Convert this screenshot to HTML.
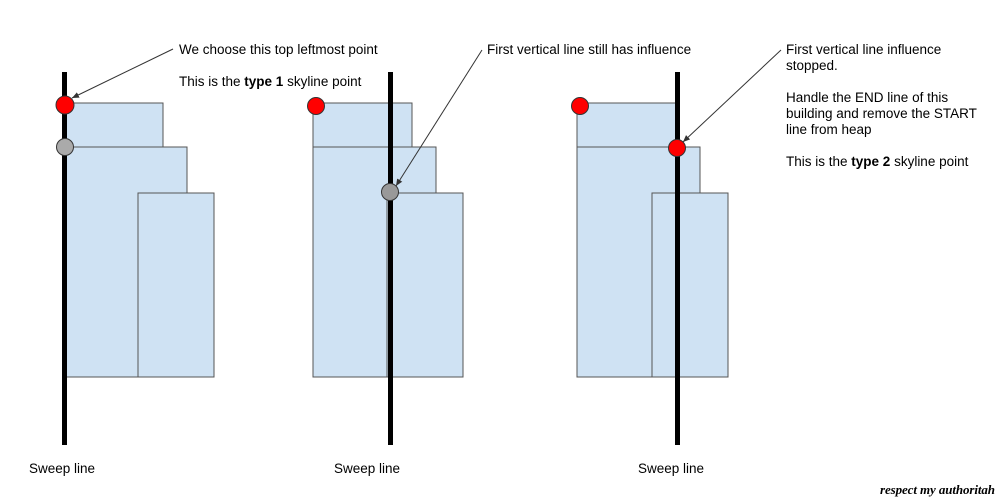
<!DOCTYPE html>
<html><head><style>body{margin:0;background:#fff}svg{display:block}</style></head><body>
<svg width="1000" height="503" xmlns="http://www.w3.org/2000/svg" font-family="Liberation Sans, Arial, sans-serif" font-size="13.5">
<defs><marker id="a" markerWidth="8" markerHeight="8" refX="7" refY="4" orient="auto" markerUnits="userSpaceOnUse"><path d="M0,1 L7,4 L0,7 z" fill="#333"/></marker></defs>
<g fill="#cfe2f3" stroke="#555" stroke-width="1">
<rect x="64" y="103" width="99" height="44"/><rect x="64" y="147" width="123" height="230"/><rect x="138" y="193" width="76" height="184"/>
<rect x="313" y="103" width="99" height="44"/><rect x="313" y="147" width="123" height="230"/><rect x="387" y="193" width="76" height="184"/>
<rect x="577" y="103" width="99" height="44"/><rect x="577" y="147" width="123" height="230"/><rect x="652" y="193" width="76" height="184"/>
</g>
<g fill="#000"><rect x="62" y="72" width="5" height="373"/><rect x="388" y="72" width="5" height="373"/><rect x="675" y="72" width="5" height="373"/></g>
<g stroke="#333" stroke-width="1">
<circle cx="65" cy="105" r="9" fill="#f00"/><circle cx="65" cy="147" r="8.5" fill="#aaa"/>
<circle cx="316" cy="106" r="8.5" fill="#f00"/><circle cx="390" cy="192" r="8.5" fill="#999"/>
<circle cx="580" cy="106" r="8.5" fill="#f00"/><circle cx="677" cy="148" r="8.5" fill="#f00"/>
<line x1="173" y1="49" x2="72" y2="98" marker-end="url(#a)"/>
<line x1="482" y1="50" x2="396" y2="186" marker-end="url(#a)"/>
<line x1="781" y1="50" x2="683" y2="142" marker-end="url(#a)"/>
</g>
<g fill="#000">
<text x="179" y="54">We choose this top leftmost point</text>
<text x="179" y="86">This is the <tspan font-weight="bold">type 1</tspan> skyline point</text>
<text x="487" y="54">First vertical line still has influence</text>
<text x="786" y="54">First vertical line influence</text>
<text x="786" y="70">stopped.</text>
<text x="786" y="102">Handle the END line of this</text>
<text x="786" y="118">building and remove the START</text>
<text x="786" y="134">line from heap</text>
<text x="786" y="166">This is the <tspan font-weight="bold">type 2</tspan> skyline point</text>
<text x="29" y="473">Sweep line</text>
<text x="334" y="473">Sweep line</text>
<text x="638" y="473">Sweep line</text>
<text x="880" y="494" font-size="13" font-weight="bold" font-style="italic" font-family="Liberation Serif, serif" textLength="115">respect my authoritah</text>
</g>
</svg>
</body></html>
